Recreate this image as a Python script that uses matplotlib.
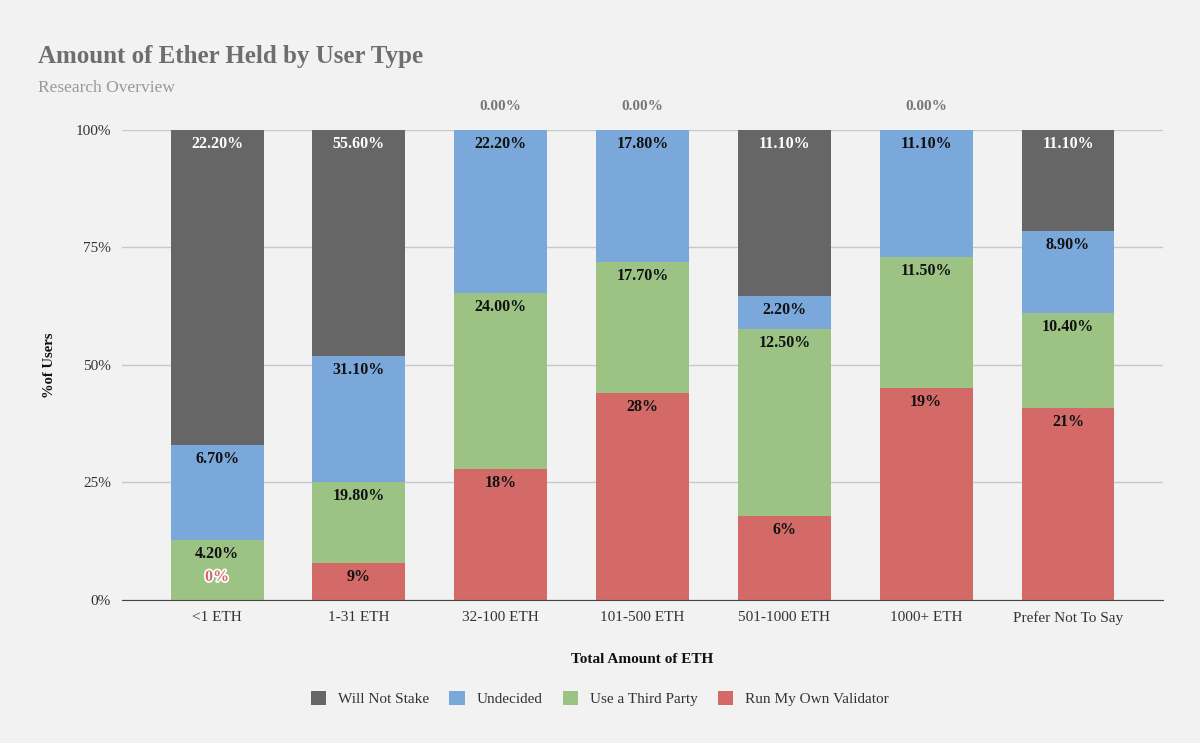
import numpy as np
import matplotlib.pyplot as plt
import matplotlib.patheffects as pe

plt.rcParams['font.family'] = ['Liberation Serif', 'DejaVu Serif']

# categories and raw values per user type
categories = ['<1 ETH', '1-31 ETH', '32-100 ETH', '101-500 ETH', '501-1000 ETH', '1000+ ETH', 'Prefer Not To Say']
run_own = [0, 9.2, 17.8, 27.9, 5.6, 18.6, 21]
third_party = [4.2, 19.8, 24.0, 17.7, 12.5, 11.5, 10.4]
undecided = [6.7, 31.1, 22.2, 17.8, 2.2, 11.1, 8.9]
will_not = [22.2, 55.6, 0, 0, 11.1, 0, 11.1]

series = [
    ('Run My Own Validator', run_own, '#D46A68', '{:.0f}%'),
    ('Use a Third Party', third_party, '#9DC384', '{:.2f}%'),
    ('Undecided', undecided, '#7BA8DA', '{:.2f}%'),
    ('Will Not Stake', will_not, '#666666', '{:.2f}%'),
]

bg = '#F2F2F2'
fig = plt.figure(figsize=(12, 7.43), dpi=100, facecolor=bg)
ax = fig.add_axes([0.1017, 0.1925, 0.8675, 0.6326], facecolor=bg)

x = np.arange(len(categories))
totals = np.sum([np.array(s[1], dtype=float) for s in series], axis=0)
bottom = np.zeros(len(categories))
for name, vals, color, fmt in series:
    vals = np.array(vals, dtype=float)
    frac = vals / totals
    ax.bar(x, frac, 0.655, bottom=bottom, color=color, label=name, zorder=3)
    for i in range(len(x)):
        top = bottom[i] + frac[i]
        txt = fmt.format(vals[i])
        if vals[i] == 0:
            if name == 'Run My Own Validator':
                t = ax.annotate(txt, (x[i], top), xytext=(0, 23), textcoords='offset pixels',
                                ha='center', va='center', fontsize=11.5, fontweight='bold',
                                color=color, zorder=5)
                t.set_path_effects([pe.withStroke(linewidth=2.5, foreground='white')])
            else:
                ax.annotate(txt, (x[i], top), xytext=(0, 23), textcoords='offset pixels',
                            ha='center', va='center', fontsize=11, fontweight='bold',
                            color='#777777', annotation_clip=False)
        else:
            tc = 'white' if name == 'Will Not Stake' else '#111111'
            ax.annotate(txt, (x[i], top), xytext=(0, -14), textcoords='offset pixels',
                        ha='center', va='center', fontsize=11.5, fontweight='bold',
                        color=tc, zorder=5)
    bottom = bottom + frac

ax.set_xlim(-0.67, len(categories) - 0.33)
ax.set_ylim(0, 1)
ax.set_yticks([0, 0.25, 0.5, 0.75, 1.0])
ax.set_yticklabels(['0%', '25%', '50%', '75%', '100%'])
ax.set_xticks(x)
ax.set_xticklabels(categories)
ax.tick_params(axis='both', length=0, labelsize=11, labelcolor='#333333')
ax.tick_params(axis='x', pad=8)
ax.tick_params(axis='y', pad=8)
ax.grid(axis='y', color='#C8C8C8', linewidth=1, zorder=0)
for s in ['top', 'right', 'left']:
    ax.spines[s].set_visible(False)
ax.spines['bottom'].set_color('#444444')
ax.spines['bottom'].set_zorder(4)

ax.set_xlabel('Total Amount of ETH', fontsize=11, fontweight='bold', color='#111111', labelpad=20)
ax.set_ylabel('%of Users', fontsize=10.5, fontweight='bold', color='#111111', labelpad=14)

fig.text(0.032, 0.924, 'Amount of Ether Held by User Type', fontsize=18, fontweight='bold',
         color='#6E6E6E', va='center', ha='left')
fig.text(0.032, 0.882, 'Research Overview', fontsize=12.5, color='#999999', va='center', ha='left')

handles, labels = ax.get_legend_handles_labels()
order = [3, 2, 1, 0]
fig.legend([handles[i] for i in order], [labels[i] for i in order], loc='center',
           bbox_to_anchor=(0.5, 0.06), ncol=4, frameon=False, fontsize=11,
           handlelength=1.0, handleheight=1.0, handletextpad=0.8, columnspacing=1.3,
           labelcolor='#333333')

fig.savefig('out.png', dpi=100, facecolor=bg)
